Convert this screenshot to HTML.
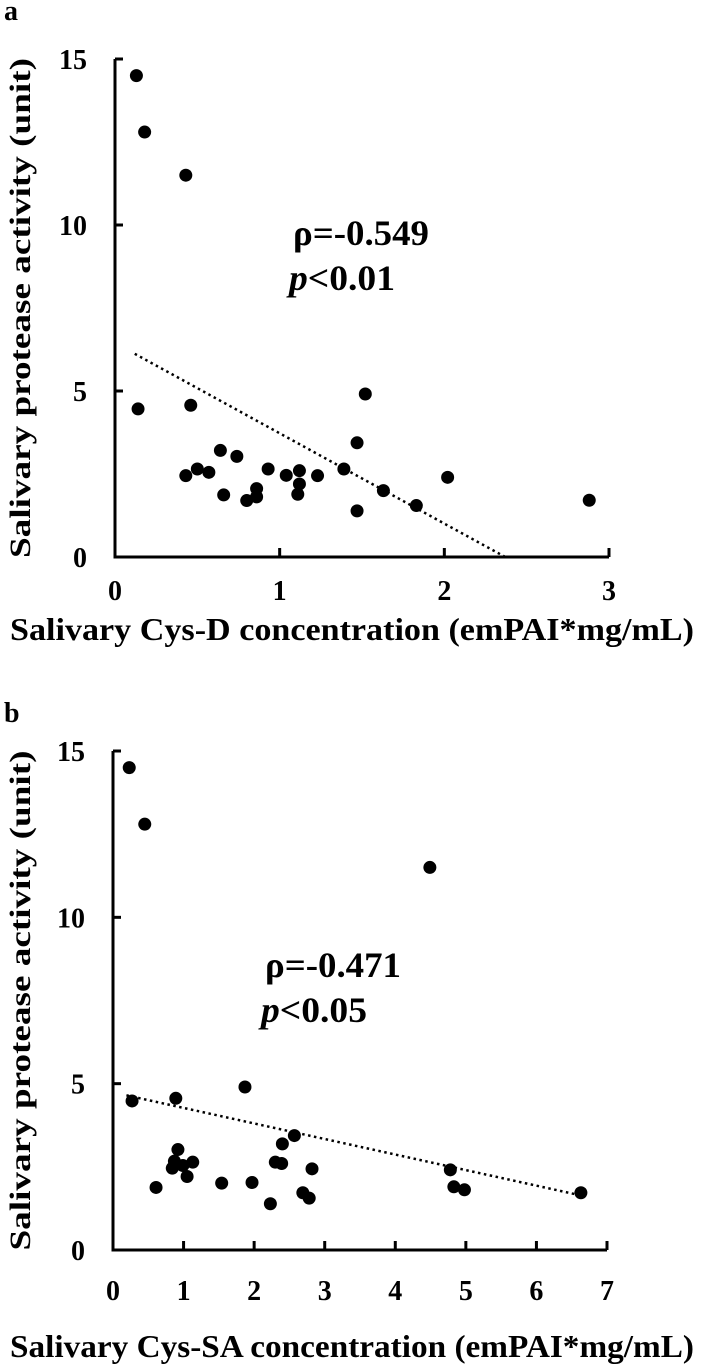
<!DOCTYPE html>
<html><head><meta charset="utf-8"><style>
html,body{margin:0;padding:0;background:#fff;}
svg{display:block;font-family:"Liberation Serif",serif;font-weight:bold;}
</style></head><body>
<svg id="fig" width="708" height="1366" viewBox="0 0 708 1366"></svg>
<script>
// Panel a data
const aCysD = [0.13,0.18,0.43,0.14,0.46,1.52,1.47,0.64,0.74,0.43,0.50,0.57,0.66,0.80,0.86,0.86,0.93,1.04,1.12,1.12,1.11,1.23,1.39,1.47,1.63,1.83,2.02,2.88];
const aActivity = [14.5,12.8,11.5,4.46,4.57,4.91,3.44,3.21,3.03,2.45,2.65,2.55,1.87,1.70,2.06,1.81,2.65,2.46,2.60,2.20,1.89,2.45,2.65,1.39,2.00,1.55,2.40,1.71];
const aTrendX = [0.12,2.37];
const aTrendY = [6.12,0];
const aXTicks = [0,1,2,3];
const aYTicks = [0,5,10,15];
// Panel b data
const bCysSA = [0.23,0.45,4.49,0.27,0.89,1.87,2.57,2.40,0.92,0.87,0.84,0.99,1.13,1.05,0.61,1.54,1.97,2.30,2.39,2.82,2.69,2.78,2.23,4.78,4.83,4.98,6.63];
const bActivity = [14.5,12.8,11.5,4.48,4.56,4.90,3.44,3.19,3.02,2.67,2.46,2.54,2.64,2.21,1.88,2.01,2.03,2.64,2.60,2.44,1.72,1.56,1.39,2.41,1.90,1.81,1.72];
const bTrendX = [0.19,6.63];
const bTrendY = [4.65,1.64];
const bXTicks = [0,1,2,3,4,5,6,7];
const bYTicks = [0,5,10,15];

const NS="http://www.w3.org/2000/svg";
const svg=document.getElementById('fig');
function mk(tag,attrs,parent){const e=document.createElementNS(NS,tag);for(const k in attrs)e.setAttribute(k,attrs[k]);(parent||svg).appendChild(e);return e;}

function panel(cfg){
  const g=mk('g',{});
  
  
  const sx=v=>cfg.x0+(v-cfg.xmin)*(cfg.x1-cfg.x0)/(cfg.xmax-cfg.xmin);
  const sy=v=>cfg.y0-(v-cfg.ymin)*(cfg.y0-cfg.y1)/(cfg.ymax-cfg.ymin);
  const ax=mk('path',{d:`M${sx(cfg.xmin)},${sy(cfg.ymax)} L${sx(cfg.xmin)},${sy(cfg.ymin)} L${sx(cfg.xmax)},${sy(cfg.ymin)}`,fill:'none',stroke:'#000','stroke-width':3},g);
  
  
  cfg.yTicks.forEach(t=>{
    if(t!==cfg.ymin){const tk=mk('line',{x1:sx(cfg.xmin),x2:sx(cfg.xmin)+8,y1:sy(t),y2:sy(t),stroke:'#000','stroke-width':3},g);
    
    }
    const tl=mk('text',{x:sx(cfg.xmin)-28,y:sy(t)+10,'text-anchor':'end','font-size':28},g);
    tl.textContent=t;
    
    
  });
  cfg.xTicks.forEach(t=>{
    if(t!==cfg.xmin){const tk=mk('line',{x1:sx(t),x2:sx(t),y1:sy(cfg.ymin),y2:sy(cfg.ymin)-9,stroke:'#000','stroke-width':3},g);
    
    }
    const tl=mk('text',{x:sx(t),y:cfg.xLabY,'text-anchor':'middle','font-size':28},g);
    tl.textContent=t;
    
    
  });
  const tr=mk('line',{x1:sx(cfg.tx[0]),y1:sy(cfg.ty[0]),x2:sx(cfg.tx[1]),y2:sy(cfg.ty[1]),stroke:'#000','stroke-width':2.5,'stroke-dasharray':'2.5 3.5'},g);
  
  
  cfg.xs.forEach((v,i)=>{
    const c=mk('circle',{cx:sx(v),cy:sy(cfg.ys[i]),r:6.5,fill:'#000'},g);
    
    
  });
  const lt=mk('text',{x:4,y:cfg.letterY,'font-size':28},g);
  lt.textContent=cfg.letter;
  
  
  const xt=mk('text',{x:352,y:cfg.xTitleY,'text-anchor':'middle','font-size':32,textLength:684,lengthAdjust:'spacingAndGlyphs'},g);
  xt.textContent=cfg.xTitle;
  
  
  const cy=(sy(cfg.ymin)+sy(cfg.ymax))/2;
  const yt=mk('text',{x:0,y:0,'text-anchor':'middle','font-size':30,textLength:500,lengthAdjust:'spacingAndGlyphs',transform:`translate(30,${cy}) rotate(-90)`},g);
  yt.textContent='Salivary protease activity (unit)';
  
  
  const r=mk('text',{x:cfg.rhoX,y:cfg.rhoY,'font-size':36,textLength:136,lengthAdjust:'spacingAndGlyphs'},g);
  r.textContent=cfg.rho;
  
  
  const p=mk('text',{x:cfg.rhoX-4,y:cfg.rhoY+45,'font-size':36,textLength:106,lengthAdjust:'spacingAndGlyphs'},g);
  const pi=mk('tspan',{'font-style':'italic'},p);pi.textContent='p';
  const pr=mk('tspan',{},p);pr.textContent=cfg.pval;
  
  
}

panel({name:'panel-a',letter:'a',letterY:20,x0:115,x1:609,xmin:0,xmax:3,y0:557,y1:59,ymin:0,ymax:15,
  xs:aCysD,ys:aActivity,tx:aTrendX,ty:aTrendY,xTicks:aXTicks,yTicks:aYTicks,xLabY:600,xTitleY:640,
  xTitle:'Salivary Cys-D concentration (emPAI*mg/mL)',rho:'ρ=-0.549',pval:'<0.01',rhoX:293,rhoY:245});
panel({name:'panel-b',letter:'b',letterY:722,x0:113,x1:607,xmin:0,xmax:7,y0:1250,y1:751,ymin:0,ymax:15,
  xs:bCysSA,ys:bActivity,tx:bTrendX,ty:bTrendY,xTicks:bXTicks,yTicks:bYTicks,xLabY:1300,xTitleY:1357,
  xTitle:'Salivary Cys-SA concentration (emPAI*mg/mL)',rho:'ρ=-0.471',pval:'<0.05',rhoX:265,rhoY:977});
</script>
</body></html>
